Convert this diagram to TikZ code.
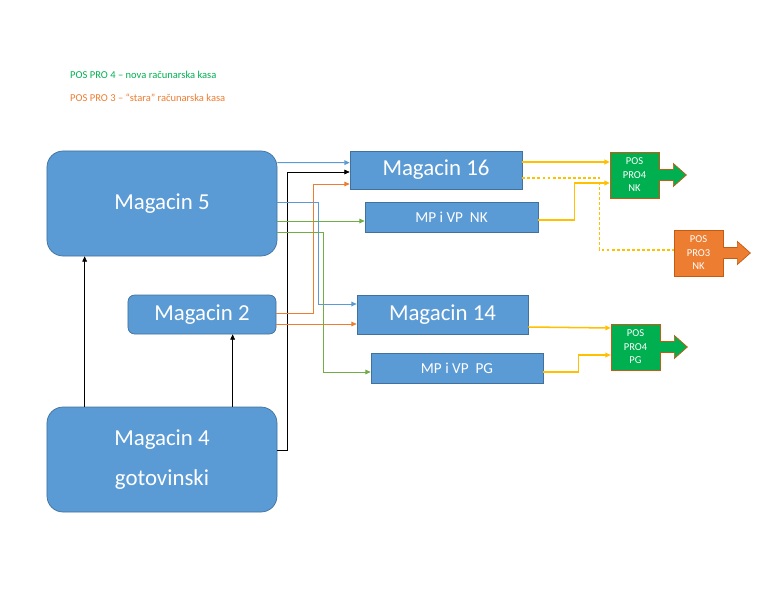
\documentclass[tikz,border=0pt]{standalone}
\usepackage{fontspec}
\setmainfont{Carlito}
\usetikzlibrary{arrows.meta,calc}
\definecolor{magblue}{HTML}{5B9BD5}
\definecolor{magedge}{HTML}{41719C}
\definecolor{posgreen}{HTML}{00B050}
\definecolor{posorange}{HTML}{ED7D31}
\definecolor{posedge}{HTML}{C55A11}
\definecolor{lnyellow}{HTML}{FFC000}
\definecolor{lngreen}{HTML}{70AD47}
\begin{document}
\begin{tikzpicture}[x=0.03cm, y=-0.03cm, >={Triangle[length=4.5pt,width=4pt]},
  mag/.style={draw=magedge, line width=0.6pt, fill=magblue, text=white, inner sep=0pt, align=center, font=\fontsize{19.5}{34}\selectfont},
  smallmag/.style={mag, font=\fontsize{13}{15}\selectfont},
  posbox/.style={draw=posedge, line width=0.6pt, text=white, inner sep=0pt, align=center, minimum width=1.47cm, minimum height=1.38cm, font=\fontsize{9}{11.5}\selectfont},
  legend/.style={anchor=west, inner sep=0pt, font=\fontsize{9}{11}\selectfont},
  blueln/.style={->, magblue, line width=0.8pt},
  orangeln/.style={->, posorange, line width=0.8pt},
  greenln/.style={->, lngreen, line width=0.8pt},
  blackln/.style={->, black, line width=0.6pt},
  yellowln/.style={->, lnyellow, line width=1.3pt}]
\useasboundingbox (0,0) rectangle (768,594);
% legend
\node[legend, text=posgreen] (leg4) at (70,75) {POS PRO 4 -- nova računarska kasa};
\node[legend, text=posorange] (leg3) at (70,98) {POS PRO 3 -- “stara” računarska kasa};
% warehouses
\node[mag, rounded corners=0.48cm, minimum width=6.9cm, minimum height=3.15cm] (m5) at (162,203.5) {Magacin 5};
\node[mag, rounded corners=0.2cm, minimum width=4.44cm, minimum height=1.17cm] (m2) at (202,314.5) {Magacin 2};
\node[mag, rounded corners=0.48cm, minimum width=6.9cm, minimum height=3.15cm] (m4) at (162,459.5) {Magacin 4\\gotovinski};
\node[mag, minimum width=5.16cm, minimum height=1.14cm] (m16) at (436,170) {Magacin 16};
\node[smallmag, minimum width=5.19cm, minimum height=0.9cm] (nk) at (451.5,217) {MP i VP~~NK};
\node[mag, minimum width=5.13cm, minimum height=1.17cm] (m14) at (442.5,314.5) {Magacin 14};
\node[smallmag, minimum width=5.16cm, minimum height=0.9cm] (pg) at (457,368) {MP i VP~~PG};
% cash registers
\node[posbox, fill=posgreen] (p4nk) at (634.5,175) {POS\\PRO4\\NK};
\node[posbox, fill=posorange] (p3nk) at (698.5,253) {POS\\PRO3\\NK};
\node[posbox, fill=posgreen] (p4pg) at (635.5,347) {POS\\PRO4\\PG};
\foreach \p/\c in {p4nk/posgreen, p3nk/posorange, p4pg/posgreen} {
  \fill[\c] ($(\p.east)+(-1,-5.5)$) -- ++(15,0) -- ++(0,-6) -- ++(13,11.5) -- ++(-13,11.5) -- ++(0,-6) -- ++(-15,0) -- cycle;
  \draw[posedge, line width=0.6pt, line join=miter] ($(\p.east)+(0,-5.5)$) -- ++(14,0) -- ++(0,-6) -- ++(13,11.5) -- ++(-13,11.5) -- ++(0,-6) -- ++(-14,0);
}
% connectors
\draw[blackln] ($(m4.north west)+(38,0)$) -- ($(m5.south west)+(38,0)$);
\draw[blackln] ($(m4.north west)+(186,0)$) coordinate (up2) -- (up2 |- m2.south);
\draw[blueln] ($(m5.north east)+(0,12)$) -- ($(m16.north west)+(0,12)$);
\draw[blackln] ($(m4.east)+(0,-9.5)$) -- ++(10,0) |- ($(m16.west)+(0,2)$);
\draw[orangeln] ($(m2.east)+(0,-1.5)$) -- ++(37,0) |- ($(m16.west)+(0,14)$);
\draw[orangeln] ($(m2.east)+(0,9.5)$) -- ($(m14.west)+(0,9.5)$);
\draw[blueln] ($(m5.east)+(0,-1.5)$) -- ++(41,0) |- ($(m14.west)+(0,-10.5)$);
\draw[greenln] ($(m5.east)+(0,17.5)$) -- ($(nk.west)+(0,4)$);
\draw[greenln] ($(m5.east)+(0,28.5)$) -- ++(46,0) |- ($(pg.west)+(0,4)$);
\draw[yellowln] ($(m16.east)+(0,-8)$) -- ($(p4nk.west)+(0,-13)$);
\draw[yellowln] ($(nk.east)+(0,3)$) -- ++(36,0) |- ($(p4nk.west)+(0,8)$);
\draw[lnyellow, line width=1.1pt, dash pattern=on 2.5pt off 1.8pt] ($(m16.east)+(0,8)$) -- ++(77,0) |- ($(p3nk.west)+(0,-3)$);
\draw[yellowln] ($(m14.east)+(0,12.5)$) -- ($(p4pg.west)+(0,-19)$);
\draw[yellowln] ($(pg.east)+(0,4)$) -- ++(35,0) |- ($(p4pg.west)+(0,8)$);
\end{tikzpicture}
\end{document}
